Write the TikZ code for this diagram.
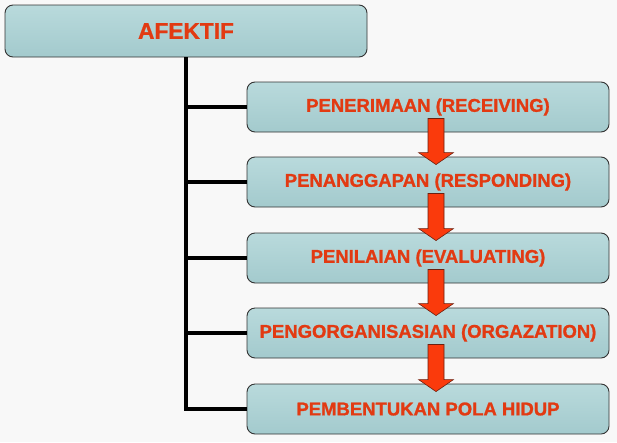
\documentclass[tikz,border=0pt]{standalone}
\usepackage{fontspec}
\setmainfont{Liberation Sans}
\newfontfamily\boldarial{Liberation Sans Bold}[FakeBold=1.2]
\usetikzlibrary{calc}
\definecolor{bgc}{HTML}{F8F8F8}
\definecolor{boxtop}{HTML}{B9DADC}
\definecolor{boxbot}{HTML}{A3CACD}
\definecolor{txtred}{HTML}{E23A12}
\definecolor{arrred}{HTML}{FA3A0C}
\definecolor{arredge}{HTML}{6A2010}
\tikzset{
  lvlbox/.style={draw=black!80, line width=0.9pt, rounded corners=8pt,
    top color=boxtop, bottom color=boxbot, minimum width=362pt, minimum height=50pt,
    inner sep=0pt, text=txtred, font=\boldarial\fontsize{18.5}{20}\selectfont},
  topbox/.style={lvlbox, minimum height=52pt, font=\boldarial\fontsize{22.7}{24}\selectfont},
  branch/.style={line width=3.5pt, black},
  fatarr/.style={fill=arrred, draw=arredge, line width=0.6pt, line join=miter}
}
\begin{document}
\begin{tikzpicture}[x=1pt,y=-1pt]
\fill[bgc] (0,0) rectangle (617,442);
\useasboundingbox (0,0) rectangle (617,442);
\node[topbox] (top) at (186,31) {AFEKTIF};
\node[lvlbox] (b1) at (428,107) {PENERIMAAN (RECEIVING)};
\node[lvlbox] (b2) at (428,182) {PENANGGAPAN (RESPONDING)};
\node[lvlbox] (b3) at (428,258) {PENILAIAN (EVALUATING)};
\node[lvlbox] (b4) at (428,333) {PENGORGANISASIAN (ORGAZATION)};
\node[lvlbox] (b5) at (428,409) {PEMBENTUKAN POLA HIDUP};
\coordinate (trunk) at (top.south -| 186,0);
\draw[branch] (trunk) -- (trunk |- b5.west) -- (b5.west);
\foreach \b in {b1,b2,b3,b4}{
  \draw[branch] (trunk |- \b.west) -- (\b.west);
}
\foreach \u/\d in {b1/b2,b2/b3,b3/b4,b4/b5}{
  \draw[fatarr]
    ($(\u.south)+(0,-14)$) -- ++(16,0)
    -- ($(\d.north)+(16,-4)$) -- ++(9.5,0)
    -- ($(\d.north)+(8,8)$)
    -- ($(\d.north)+(-9.5,-4)$) -- ++(9.5,0) -- cycle;
}
\end{tikzpicture}
\end{document}
